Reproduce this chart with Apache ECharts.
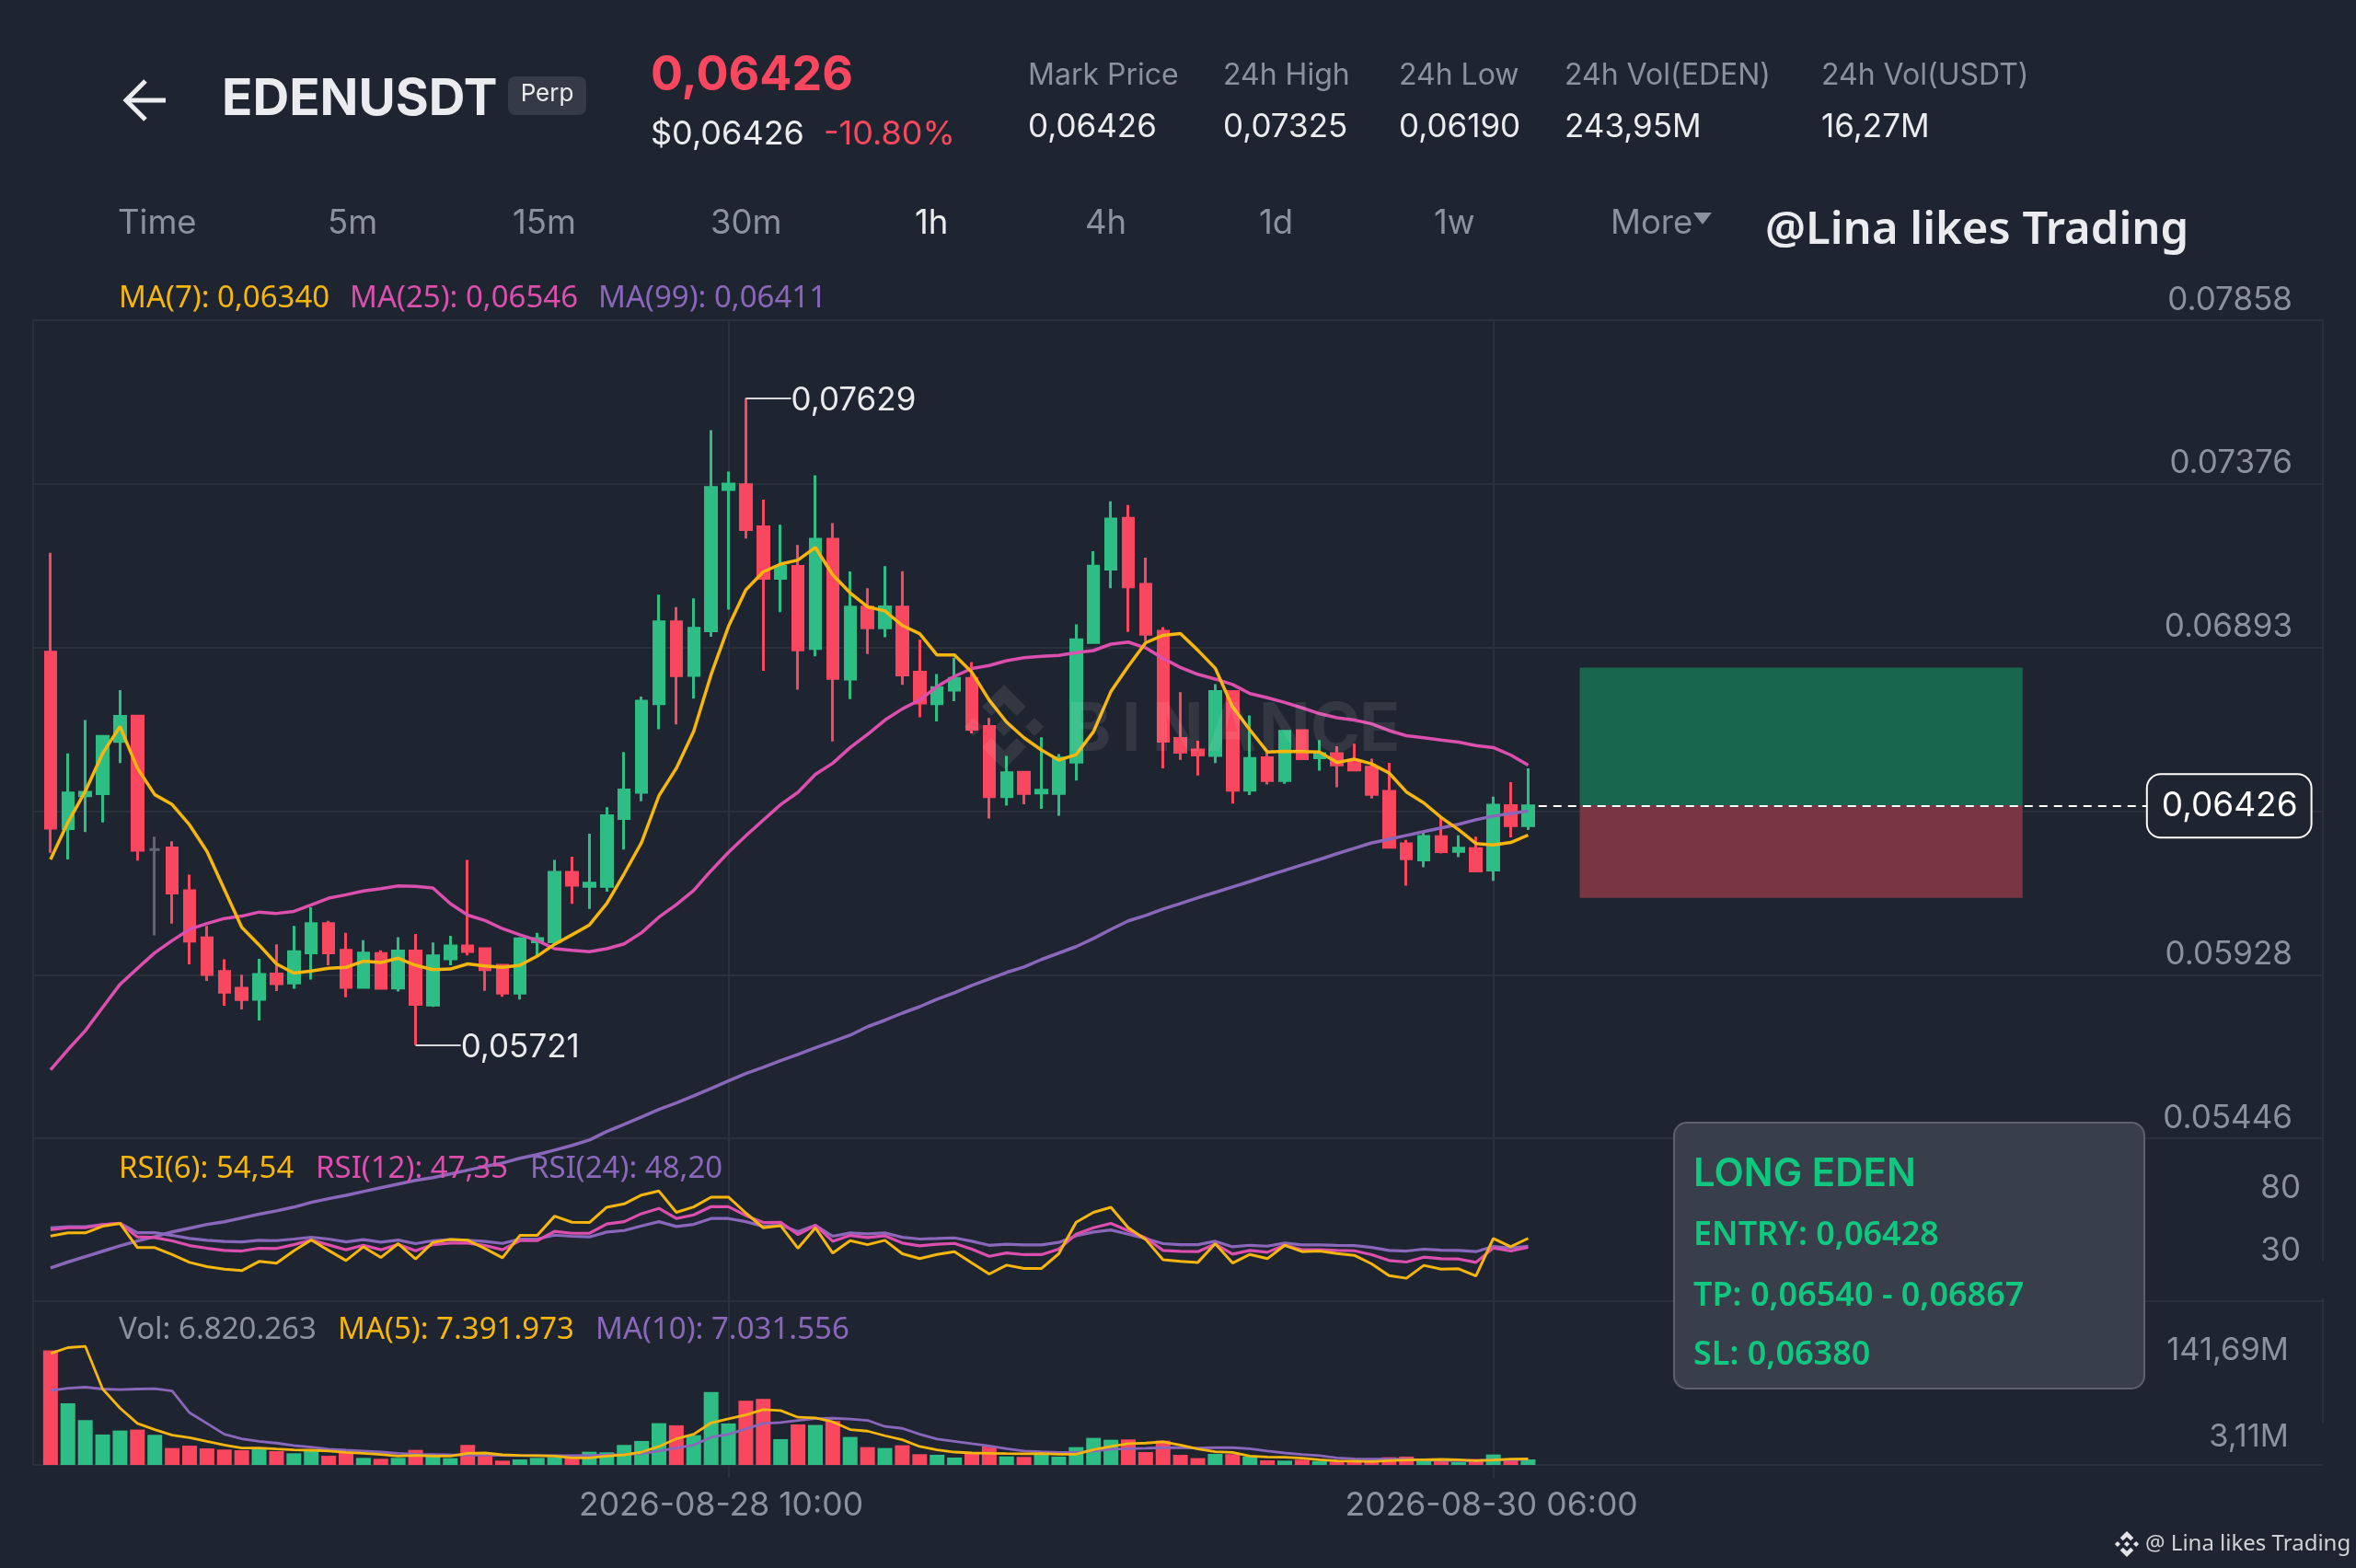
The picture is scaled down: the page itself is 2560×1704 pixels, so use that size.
<!DOCTYPE html>
<html><head><meta charset="utf-8">
<style>html,body{margin:0;padding:0;background:#1f2530}#c{width:2560px;height:1704px}</style>
<script src="https://cdn.jsdelivr.net/npm/echarts@6/dist/echarts.min.js"></script>
</head><body><div id="c"></div>
<script>
// Prices are in units of 0.00001 USDT. Hours are counted from 2026-08-28 10:00.
const firstHour = -39;
const opens = [6879,6359,6456,6462,6616,6691,6297,6302,6176,6037,5938,5888,5856,5930,5904,5993,6079,6000,5891,5991,5889,5998,5839,5975,6013,6005,5956,5874,6025,6025,6230,6189,6189,6389,6466,6727,6969,6811,6942,7359,7373,7249,7097,7132,6890,7212,6800,7012,6951,7012,6820,6727,6767,6802,6660,6453,6525,6464,6463,6555,6908,7124,7274,7079,6941,6625,6591,6575,6763,6472,6568,6501,6648,6568,6580,6557,6540,6469,6314,6267,6335,6292,6300,6237,6427,6368];
const closes = [6360,6464,6466,6631,6690,6295,6297,6169,6027,5929,5877,5855,5929,5902,5996,6079,5993,5891,5992,5888,5998,5841,5984,6013,5997,5943,5874,6034,6035,6230,6192,6198,6397,6473,6735,6969,6810,6950,7365,7375,7241,7097,7132,6886,7212,6802,7012,6951,7013,6812,6729,6775,6802,6652,6453,6524,6463,6472,6567,6916,7133,7272,7072,6932,6617,6584,6576,6763,6472,6566,6501,6646,6565,6580,6547,6532,6460,6304,6270,6336,6291,6301,6234,6428,6368,6426];
const highs = [7172,6581,6679,6635,6767,6692,6335,6322,6223,6072,5974,5928,5975,6018,6072,6127,6087,6052,6030,6000,6039,6048,6023,6043,6267,6006,5959,6039,6052,6267,6276,6344,6422,6585,6748,7049,7012,7038,7534,7412,7629,7329,7255,7195,7401,7260,7117,7068,7133,7118,6916,6815,6863,6850,6685,6573,6527,6628,6579,6961,7177,7324,7313,7158,6953,6761,6618,6785,6763,6693,6591,6646,6650,6620,6602,6609,6565,6553,6326,6350,6392,6339,6335,6453,6496,6537];
const lows = [6288,6268,6349,6377,6552,6265,6044,6079,5959,5910,5837,5826,5793,5880,5887,5914,5956,5862,5888,5887,5879,5721,5833,5956,5985,5881,5863,5855,5983,6022,6137,6122,6173,6297,6440,6652,6666,6742,6925,7005,7214,6824,6997,6769,6867,6616,6741,6874,6923,6783,6687,6675,6735,6640,6389,6427,6431,6417,6397,6501,6905,7068,6939,6912,6537,6562,6516,6552,6433,6458,6489,6491,6564,6530,6481,6528,6448,6302,6191,6245,6286,6275,6233,6205,6333,6355];
const ma7 = [6268,6377,6469,6581,6660,6537,6459,6430,6370,6292,6180,6068,6016,5960,5933,5939,5947,5950,5968,5964,5977,5956,5943,5945,5960,5954,5950,5956,5983,6018,6046,6075,6138,6226,6318,6456,6537,6646,6813,6955,7063,7116,7139,7151,7188,7107,7054,7013,7001,6958,6934,6871,6871,6820,6738,6673,6627,6591,6561,6577,6645,6763,6838,6907,6929,6934,6885,6832,6718,6650,6585,6587,6586,6585,6554,6564,6550,6523,6467,6435,6392,6356,6315,6311,6318,6340];
const ma25 = [5648,5707,5763,5832,5900,5947,5993,6029,6062,6079,6094,6101,6113,6109,6115,6134,6154,6164,6175,6182,6190,6189,6184,6138,6104,6088,6064,6046,6029,6005,6000,5996,6005,6019,6052,6098,6135,6177,6235,6289,6338,6384,6430,6466,6519,6552,6598,6637,6679,6712,6738,6778,6808,6831,6840,6854,6863,6867,6870,6878,6884,6903,6909,6892,6861,6834,6814,6800,6784,6757,6745,6731,6715,6698,6686,6679,6668,6648,6633,6627,6620,6614,6604,6598,6576,6546];
const ma99 = [5064,5081,5097,5113,5129,5143,5156,5170,5181,5192,5200,5211,5222,5232,5243,5257,5268,5278,5289,5300,5311,5322,5330,5341,5352,5363,5373,5387,5398,5411,5425,5441,5466,5487,5509,5531,5550,5571,5593,5615,5637,5655,5675,5693,5713,5731,5750,5775,5794,5815,5834,5856,5875,5897,5916,5935,5951,5973,5992,6011,6035,6062,6087,6103,6122,6138,6155,6171,6187,6203,6220,6236,6252,6268,6285,6301,6317,6328,6339,6350,6361,6372,6385,6396,6404,6411];
const rsi6 = [56.4,58.9,58.9,64.2,66.5,47.1,47.1,41.5,35.3,31.9,29.9,28.7,36.1,34.6,44.6,53.2,44.9,36.8,47.8,39.2,50.3,38.0,51.3,53.7,53.0,46.4,39.0,56.9,56.9,72.3,67.4,67.2,79.4,82.1,89.2,92.4,75.3,79.7,87.5,87.5,74.8,63.0,64.7,46.6,63.0,42.7,52.7,49.5,53.0,42.2,38.3,41.7,43.9,34.8,26.0,33.1,30.4,30.4,42.2,67.4,75.3,79.4,63.0,53.7,37.5,36.1,35.3,50.3,34.8,41.7,38.3,49.0,43.9,44.4,42.4,41.0,34.1,24.8,22.6,32.9,29.9,30.2,24.5,54.4,47.8,54.54];
const rsi12 = [61.5,63.0,63.0,65.5,66.7,55.7,55.2,52.5,48.8,46.6,44.9,44.4,46.6,46.4,49.5,53.2,49.3,45.4,49.0,45.4,49.8,44.6,49.5,50.8,50.8,48.8,45.4,52.7,52.7,60.1,58.6,58.6,66.0,67.9,74.3,78.5,70.4,73.3,79.9,79.9,72.8,67.2,67.4,57.6,65.0,52.2,56.9,55.2,56.6,50.8,48.6,49.8,50.5,45.9,40.2,42.9,41.5,41.5,45.9,57.9,63.0,66.5,60.6,54.9,44.9,44.1,43.9,50.0,41.9,44.9,43.4,49.0,45.4,45.4,44.9,44.6,41.5,36.8,35.6,39.5,38.3,38.0,35.3,46.8,44.4,47.35];
const rsi24 = [63.0,63.8,63.8,65.5,66.5,59.1,59.1,56.9,54.4,53.0,52.0,51.7,53.0,52.7,54.0,55.4,54.0,51.7,53.5,51.5,53.2,50.3,52.7,53.5,53.0,52.0,50.5,54.0,54.0,57.1,56.2,55.7,59.6,60.8,64.5,67.9,64.0,65.7,70.4,70.4,67.9,64.2,65.0,59.8,65.0,56.2,58.9,58.1,58.9,55.4,54.0,54.4,54.9,52.2,49.0,49.8,49.3,49.3,51.3,56.6,59.6,61.3,57.9,54.4,50.3,49.5,49.5,52.2,47.8,49.0,48.3,50.8,49.3,49.3,49.0,48.8,47.3,44.9,44.4,45.9,45.1,44.9,43.9,48.1,46.8,48.20];
// Volumes in millions
const volumes = [141.69,76.3,55.4,37.6,42.5,43.7,37.2,20.9,23.9,20.5,19.0,18.2,20.1,17.1,14.4,17.5,11.4,15.2,8.7,7.6,8.7,18.6,10.3,8.4,24.7,11.4,5.3,6.8,8.7,9.5,9.5,16.3,15.6,24.7,29.6,51.6,49.0,36.8,90.0,51.3,79.4,81.6,31.9,50.1,49.4,54.3,34.6,22.0,20.9,24.3,13.3,12.5,9.1,15.2,22.8,10.6,9.9,14.4,10.3,22.0,33.4,31.1,31.5,15.9,30.0,12.5,8.4,13.7,13.3,10.3,5.7,5.3,6.5,4.9,3.8,4.2,4.6,9.5,10.3,4.6,6.8,3.4,7.2,12.9,6.8,6.82];
const volMa5 = [137.8,145.0,146.6,93.8,70.2,51.3,43.7,36.8,33.8,29.2,24.7,20.9,20.9,19.7,18.6,18.2,17.1,15.6,14.4,12.9,11.0,11.8,11.0,11.0,14.4,14.8,12.5,11.8,11.4,11.0,8.7,8.7,11.0,12.5,15.9,22.8,32.3,38.0,52.0,57.0,61.9,68.3,67.2,58.9,58.1,53.2,43.7,41.8,36.1,31.1,22.8,18.6,15.9,14.8,14.4,14.0,13.7,14.0,13.3,13.3,19.0,22.8,26.2,27.0,28.5,24.7,19.7,16.3,15.6,11.0,9.9,9.5,8.4,6.5,4.9,4.6,4.2,5.3,6.1,6.5,6.8,6.5,5.3,6.1,7.2,7.39];
const volMa10 = [91.9,94.9,96.1,93.8,93.0,93.8,94.2,91.5,64.5,51.3,38.0,32.3,29.2,27.0,23.9,22.0,19.4,18.2,17.1,15.9,14.4,13.3,12.9,12.5,12.2,12.2,11.8,11.4,11.4,11.4,11.4,11.8,12.2,12.9,14.0,17.1,20.9,24.7,34.2,38.0,44.4,51.3,52.4,55.1,57.3,57.7,56.6,55.1,47.5,45.2,38.0,31.9,29.2,26.2,23.5,20.1,17.1,16.3,15.6,15.6,17.1,19.4,20.1,20.5,21.3,21.3,20.9,21.3,21.3,20.1,17.1,14.8,12.9,11.4,8.7,7.6,7.2,7.2,6.8,6.1,5.7,5.3,5.3,6.1,6.5,7.03];
const priceTicks = [0.05446,0.05928,0.06411,0.06893,0.07376,0.07858];
const priceLabels = [0.05446,0.05928,0.06893,0.07376,0.07858];
const rsiTicks = [30,80];
const volTicks = [3.11,141.69];
const volTickLabels = {3.11:'3,11M',141.69:'141,69M'};
const timeTicks = [0,44];
const timeLabels = ['2026-08-28 10:00','2026-08-30 06:00'];
const lastPrice = 0.06426;
const zoneTop = 0.06834, zoneMid = 0.06428, zoneBottom = 0.06155;
const zoneStartHour = 48.97, zoneEndHour = 74.45;

const BG='#1f2530', GRID='#2b313c', RED='#f9475f', GREEN='#2ebd85', GREY='#8b919d';
const C7='#f7b60d', C25='#dc4fae', C99='#8a67bb';
const hours = opens.map((_,i)=>firstHour+i);
const p = v=>v/100000;
const pair = (arr,f)=>arr.map((v,i)=>[hours[i], f?f(v):v]);
const XMIN=-40, XMAX=91.72;

const xAxisBase = (g,labels)=>({type:'value',gridIndex:g,min:XMIN,max:XMAX,
  axisLine:{show:false},
  axisTick:{show:labels,customValues:timeTicks,length:14,lineStyle:{color:GRID,width:2}},
  splitLine:{show:true,lineStyle:{color:GRID,width:2}},
  axisLabel:{show:labels,customValues:timeTicks,margin:26,color:GREY,fontFamily:'Inter',fontSize:35.5,
    formatter:v=>v===timeTicks[0]?`{a|${timeLabels[0]}}`:`{b|${timeLabels[1]}}`,
    rich:{a:{color:GREY,fontFamily:'Inter',fontSize:35.5,padding:[0,16,0,0]},b:{color:GREY,fontFamily:'Inter',fontSize:35.5,padding:[0,4,0,0]}}}
});
const yBase = (g,min,max,ticks,labels,margin,extra)=>({type:'value',gridIndex:g,position:'right',min,max,scale:true,
  axisLine:{show:false},
  axisTick:{show:false,customValues:ticks},
  splitLine:{show:true,lineStyle:{color:GRID,width:2}},
  axisLabel:Object.assign({show:true,inside:true,customValues:labels,showMinLabel:true,showMaxLabel:true,margin,
     color:GREY,fontFamily:'Inter',fontSize:35,verticalAlign:'bottom'},extra)
});
const line=(name,data,color,xi,width,clip)=>({name,type:'line',xAxisIndex:xi,yAxisIndex:xi,data,symbol:'none',
  clip:clip!==false,silent:true,lineStyle:{color,width},z:5,animation:false});

const hiIdx=highs.indexOf(Math.max(...highs)), loIdx=lows.indexOf(Math.min(...lows));
const tagLabel=(t)=>({show:true,position:'end',distance:0,offset:[0,3],formatter:t,color:'#e9ebee',fontFamily:'Inter',fontSize:35});
const tagLine={color:'#d5d7db',width:2,type:'solid'};

const series=[
 {name:'EDENUSDT',type:'candlestick',xAxisIndex:0,yAxisIndex:0,barWidth:12,animation:false,silent:true,z:3,
  encode:{x:0,y:[1,2,3,4]},
  data:opens.map((o,i)=>[hours[i],p(o),p(closes[i]),p(lows[i]),p(highs[i])]),
  itemStyle:{color:GREEN,color0:RED,borderColor:GREEN,borderColor0:RED,borderColorDoji:'#61656f',borderWidth:3},
  markArea:{silent:true,z:1,data:[
    [{coord:[zoneStartHour,zoneTop],itemStyle:{color:'#19664f',opacity:1}},{coord:[zoneEndHour,zoneMid]}],
    [{coord:[zoneStartHour,zoneMid],itemStyle:{color:'#793642',opacity:1}},{coord:[zoneEndHour,zoneBottom]}]
  ]},
  markLine:{silent:true,symbol:'none',animation:false,data:[
    [{coord:[hours[hiIdx],p(highs[hiIdx])],lineStyle:tagLine,label:tagLabel('0,07629')},{coord:[hours[hiIdx]+2.6,p(highs[hiIdx])]}],
    [{coord:[hours[loIdx],p(lows[loIdx])],lineStyle:tagLine,label:tagLabel('0,05721')},{coord:[hours[loIdx]+2.6,p(lows[loIdx])]}],
    [{coord:[hours[hours.length-1]+0.6,lastPrice],lineStyle:{color:'#ffffff',width:2,type:[9,7]},
      label:{show:true,position:'end',distance:0,formatter:'0,06426',color:'#ffffff',fontFamily:'Inter',fontSize:37,
        backgroundColor:BG,borderColor:'#ffffff',borderWidth:2,borderRadius:14,padding:[18,14,12,15]}},
     {coord:[81.65,lastPrice]}]
  ]}
 },
 line('MA(99)',pair(ma99,p),C99,0,3.5,false),
 line('MA(25)',pair(ma25,p),C25,0,3.5,false),
 line('MA(7)',pair(ma7,p),C7,0,3.5,false),
 line('RSI(24)',pair(rsi24),C99,1,3.2),
 line('RSI(12)',pair(rsi12),C25,1,3.2),
 line('RSI(6)',pair(rsi6),C7,1,3),
 {name:'Vol',type:'bar',xAxisIndex:2,yAxisIndex:2,barWidth:16,animation:false,silent:true,z:3,
  data:volumes.map((v,i)=>({value:[hours[i],v],itemStyle:{color:closes[i]>=opens[i]?GREEN:RED}}))},
 line('Vol MA(10)',pair(volMa10),C99,2,2.8),
 line('Vol MA(5)',pair(volMa5),C7,2,2.8)
];

// ---- fixed text of the page header, legends and the trade card ----
const t=(text,x,y,size,fill,weight,family,align)=>({type:'text',z:50,silent:true,style:{text,x,y:y+3,fill,
  font:`${weight||400} ${size}px '${family||'Inter'}'`,textAlign:align||'left',textVerticalAlign:'middle'}});
function logo(cx,cy,r,fill,z){
  const P=a=>({type:'polygon',z,silent:true,shape:{points:a.map(q=>[cx+q[0]*r,cy+q[1]*r])},style:{fill}});
  return [
    P([[0,-1],[.52,-.48],[.3,-.26],[0,-.56],[-.3,-.26],[-.52,-.48]]),
    P([[0,1],[.52,.48],[.3,.26],[0,.56],[-.3,.26],[-.52,.48]]),
    P([[0,-.22],[.22,0],[0,.22],[-.22,0]]),
    P([[-.72,-.22],[-.5,0],[-.72,.22],[-.94,0]]),
    P([[.72,-.22],[.94,0],[.72,.22],[.5,0]])
  ];
}
const edge=(x,y1,y2)=>({type:'line',z:0,silent:true,shape:{x1:x,y1,x2:x,y2},style:{stroke:GRID,lineWidth:2}});
const W='#eaecef', G2='#8b919d', WM='rgba(255,255,255,0.085)';
const statX=[1117,1329,1520,1700,1979];
const statNames=['Mark Price','24h High','24h Low','24h Vol(EDEN)','24h Vol(USDT)'];
const statVals=['0,06426','0,07325','0,06190','243,95M','16,27M'];
const tabs=[['Time',128],['5m',356],['15m',557],['30m',772],['1h',994],['4h',1179],['1d',1368],['1w',1558],['More',1750]];
const wmLetters=[['B',1159],['I',1219],['N',1252],['A',1311],['N',1368],['C',1424],['E',1477]];
const TEAL='#10c77f';
const graphic=[
  edge(36,348,1592), edge(2524,348,1370), edge(2524,1411,1547),
  {type:'polyline',z:50,silent:true,shape:{points:[[180,109],[138,109]]},style:{stroke:W,lineWidth:5,fill:null}},
  {type:'polyline',z:50,silent:true,shape:{points:[[158,88],[137,109],[158,130]]},style:{stroke:W,lineWidth:5,fill:null}},
  t('EDENUSDT',241,105,55,W,700),
  {type:'rect',z:49,silent:true,shape:{x:552,y:83,width:85,height:42,r:8},style:{fill:'#343a46'}},
  t('Perp',594.5,99,26,W,400,'Inter','center'),
  t('0,06426',707,79,52,RED,700),
  t('$0,06426',707,143,36,W,400),
  t('-10.80%',895,143,36,RED,400),
  ...statNames.map((s,i)=>t(s,statX[i],79,32,G2)),
  ...statVals.map((s,i)=>t(s,statX[i],135,35,W)),
  ...tabs.map(a=>t(a[0],a[1],240,36.5,a[0]==='1h'?W:G2)),
  {type:'polygon',z:50,silent:true,shape:{points:[[1840,231],[1860,231],[1850,244]]},style:{fill:G2}},
  t('@Lina likes Trading',1918,248,49,W,600,'Noto Sans'),
  t('MA(7): 0,06340',129,322,33,C7,400,'Noto Sans'), t('MA(25): 0,06546',380,322,33,C25,400,'Noto Sans'), t('MA(99): 0,06411',650,322,33,C99,400,'Noto Sans'),
  t('RSI(6): 54,54',129,1268,33,C7,400,'Noto Sans'), t('RSI(12): 47,35',343,1268,33,C25,400,'Noto Sans'), t('RSI(24): 48,20',576,1268,33,C99,400,'Noto Sans'),
  t('Vol: 6.820.263',129,1443,33,G2,400,'Noto Sans'), t('MA(5): 7.391.973',367,1443,33,C7,400,'Noto Sans'), t('MA(10): 7.031.556',647,1443,33,C99,400,'Noto Sans'),
  ...logo(1091,790,46,WM,60),
  ...wmLetters.map(a=>({type:'text',z:60,silent:true,style:{text:a[0],x:a[1],y:794,fill:WM,font:"700 73px 'Inter'",textAlign:'left',textVerticalAlign:'middle'}})),
  {type:'rect',z:49,silent:true,shape:{x:1819,y:1220,width:511,height:289,r:14},style:{fill:'#383e4a',stroke:'#5c616c',lineWidth:2}},
  t('LONG EDEN',1840,1273,42,TEAL,600,'Inter'),
  t('ENTRY: 0,06428',1840,1340,36,TEAL,600,'Noto Sans'),
  t('TP: 0,06540 - 0,06867',1840,1406,36,TEAL,600,'Noto Sans'),
  t('SL: 0,06380',1840,1470,36,TEAL,600,'Noto Sans'),
  ...logo(2311,1678,14,'#e4e5e8',50),
  t('@ Lina likes Trading',2331,1675,24,'#d0d2d6',400,'Noto Sans')
];

const chart=echarts.init(document.getElementById('c'),null,{renderer:'canvas',width:2560,height:1704});
chart.setOption({
  backgroundColor:BG,animation:false,
  grid:[
    {left:36,right:36,top:348,height:889,show:false},
    {left:36,right:36,top:1237,height:177,show:false},
    {left:36,right:36,top:1414,height:178,show:false}
  ],
  xAxis:[xAxisBase(0,false),xAxisBase(1,false),xAxisBase(2,true)],
  yAxis:[
    yBase(0,0.05446,0.07858,priceTicks,priceLabels,33,{lineHeight:44,formatter:v=>v.toFixed(5)}),
    yBase(1,4.3,134.6,[4.3,134.6],rsiTicks,24,{lineHeight:40,formatter:v=>String(v)}),
    yBase(2,0,202.4,[0,202.4],volTicks,37,{verticalAlign:'middle',fontSize:34.5,
      formatter:v=>v<10?`{low|${volTickLabels[v]}}`:volTickLabels[v],
      rich:{low:{color:GREY,fontFamily:'Inter',fontSize:34.5,padding:[0,0,56,0]}}})
  ],
  series,graphic
});
</script></body></html>
